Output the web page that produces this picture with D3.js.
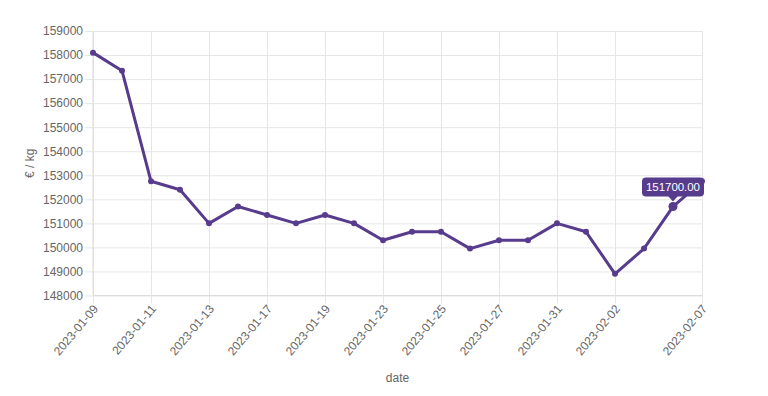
<!DOCTYPE html>
<html><head><meta charset="utf-8">
<script src="https://cdn.jsdelivr.net/npm/d3@7"></script>
<style>
html,body{margin:0;padding:0;background:#fff;}
svg{display:block;font-family:"Liberation Sans",Arial,Helvetica,sans-serif;}
</style></head>
<body><svg id="c" width="768" height="396"></svg>
<script>
const dates = ["2023-01-09","2023-01-10","2023-01-11","2023-01-12","2023-01-13","2023-01-16","2023-01-17","2023-01-18","2023-01-19","2023-01-20","2023-01-23","2023-01-24","2023-01-25","2023-01-26","2023-01-27","2023-01-30","2023-01-31","2023-02-01","2023-02-02","2023-02-03","2023-02-06","2023-02-07"];
const prices = [158100,157350,152750,152400,151000,151700,151350,151000,151350,151000,150300,150650,150650,149950,150300,150300,151000,150650,148900,149950,151700,152750];
const xTickLabels = ["2023-01-09","2023-01-11","2023-01-13","2023-01-17","2023-01-19","2023-01-23","2023-01-25","2023-01-27","2023-01-31","2023-02-02","2023-02-07"];
const yTicks = [148000,149000,150000,151000,152000,153000,154000,155000,156000,157000,158000,159000];
const highlighted = "2023-02-06";
const yTitle = "€ / kg";
const xTitle = "date";

const color = "#573b8c";
const svg = d3.select("#c");
const L = 93, R = 702, T = 31, B = 295.5;
const x = d3.scalePoint().domain(dates).range([L, R]);
const y = d3.scaleLinear().domain([148000, 159000]).range([B, T]);

const grid = "#e6e6e6";
// horizontal grid
const yAxis = d3.axisLeft(y).tickValues(yTicks).tickFormat(d3.format("d")).tickSize(-(R - L)).tickSizeOuter(0).tickPadding(3);
const gy = svg.append("g").attr("transform", `translate(${L},0)`).call(yAxis);
gy.select(".domain").remove();
gy.selectAll(".tick line").attr("stroke", grid).attr("x1", -8).attr("x2", R - L);
gy.selectAll(".tick text").attr("fill", "#666").attr("font-size", 12).attr("x", -10);

// vertical grid
const xAxis = d3.axisBottom(x).tickValues(dates).tickSize(-(B - T)).tickSizeOuter(0);
const gx = svg.append("g").attr("transform", `translate(0,${B})`).call(xAxis);
gx.select(".domain").remove();
gx.selectAll(".tick line").attr("stroke", d => xTickLabels.includes(d) ? grid : "none").attr("y1", 8).attr("y2", -(B - T));
gx.selectAll(".tick text")
  .text(d => xTickLabels.includes(d) ? d : "")
  .attr("fill", "#666").attr("font-size", 12)
  .attr("text-anchor", "end")
  .attr("dy", "0.35em")
  .attr("transform", "translate(2,11) rotate(-50)")
  .attr("x", 0).attr("y", 0);

// borders
svg.append("line").attr("x1", L).attr("x2", L).attr("y1", T).attr("y2", B).attr("stroke", "#dcdcdc");
svg.append("line").attr("x1", L).attr("x2", R).attr("y1", B).attr("y2", B).attr("stroke", "#dcdcdc");

// line
const data = dates.map((d, i) => ({d, v: prices[i]}));
svg.append("path").datum(data)
  .attr("fill", "none").attr("stroke", color).attr("stroke-width", 3).attr("stroke-linejoin", "round")
  .attr("d", d3.line().x(p => x(p.d)).y(p => y(p.v)));
svg.selectAll("circle.pt").data(data).join("circle")
  .attr("cx", p => x(p.d)).attr("cy", p => y(p.v))
  .attr("r", p => p.d === highlighted ? 4.5 : 3).attr("fill", color);

// tooltip
const hp = data.find(p => p.d === highlighted);
const hx = x(hp.d), hy = y(hp.v);
const label = hp.v.toFixed(2);
const tw = 62, th = 19;
const bx = hx - tw / 2, by = hy - 6 - th - 4;
const tt = svg.append("g");
tt.append("rect").attr("x", bx).attr("y", by).attr("width", tw).attr("height", th).attr("rx", 4).attr("fill", color);
tt.append("path").attr("d", `M${hx - 5},${by + th - 0.5} L${hx},${by + th + 5} L${hx + 5},${by + th - 0.5} Z`).attr("fill", color);
tt.append("text").attr("x", hx).attr("y", by + th / 2).attr("dy", "0.36em").attr("text-anchor", "middle")
  .attr("fill", "#fff").attr("font-size", 11.5).attr("textLength", 54).text(label);

// axis titles
svg.append("text").attr("transform", `translate(34,${(T + B) / 2}) rotate(-90)`)
  .attr("text-anchor", "middle").attr("fill", "#666").attr("font-size", 12).text(yTitle);
svg.append("text").attr("x", (L + R) / 2).attr("y", 382).attr("text-anchor", "middle")
  .attr("fill", "#666").attr("font-size", 12).text(xTitle);
</script></body></html>
